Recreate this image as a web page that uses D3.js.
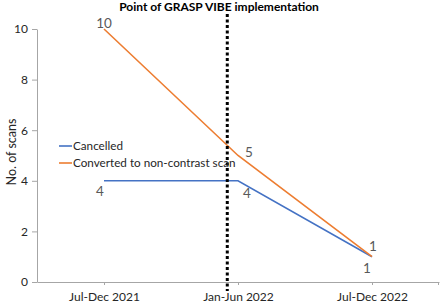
<!DOCTYPE html>
<html>
<head>
<meta charset="utf-8">
<script src="https://cdn.jsdelivr.net/npm/d3@7"></script>
<style>
  body { margin: 0; background: #fff; }
  text { font-family: Lato, "Liberation Sans", sans-serif; }
</style>
</head>
<body>
<div id="main"></div>
<script>
// chart data
var periods = ["Jul-Dec 2021", "Jan-Jun 2022", "Jul-Dec 2022"];
var cancelled = [4, 4, 1];
var converted = [10, 5, 1];
var seriesNames = ["Cancelled", "Converted to non-contrast scan"];
var yTicks = [0, 2, 4, 6, 8, 10];
var markerIndex = 0.92; // GRASP VIBE point, in category units
var titleText = "Point of GRASP VIBE implementation";

var ctx = {
    w: 440,
    h: 303,
    left: 37,
    right: 439,
    top: 29,
    bottom: 282,
    BLUE: "#4472c4",
    ORANGE: "#ed7d31",
    AXIS: "#a6a6a6",
    LABEL: "#595959",
    TEXT: "#262626"
};

var svgEl = d3.select("#main").append("svg")
    .attr("width", ctx.w)
    .attr("height", ctx.h);

var xScale = d3.scalePoint().domain(periods)
    .range([ctx.left, ctx.right]).padding(0.5);
var xIdx = d3.scaleLinear().domain([-0.5, periods.length - 0.5])
    .range([ctx.left, ctx.right]);
var yScale = d3.scaleLinear().domain([0, 10])
    .range([ctx.bottom, ctx.top]);

// y axis
var yAxis = svgEl.append("g")
    .attr("transform", "translate(" + ctx.left + ",0)")
    .call(d3.axisLeft(yScale).tickValues(yTicks).tickSize(5).tickSizeOuter(0));
yAxis.select(".domain").attr("stroke", ctx.AXIS);
yAxis.selectAll(".tick line").attr("stroke", ctx.AXIS);
yAxis.selectAll(".tick text").attr("fill", ctx.TEXT)
    .style("font-size", "12px").attr("x", -9);

// x axis
var xAxis = svgEl.append("g")
    .attr("transform", "translate(0," + ctx.bottom + ")")
    .call(d3.axisBottom(xScale).tickSize(3).tickSizeOuter(0));
xAxis.select(".domain").attr("stroke", ctx.AXIS);
xAxis.selectAll(".tick line").attr("stroke", ctx.AXIS);
xAxis.selectAll(".tick text").attr("fill", ctx.TEXT)
    .style("font-size", "12px").attr("y", 10);
xAxis.append("line")
    .attr("x1", ctx.right - 0.5).attr("x2", ctx.right - 0.5)
    .attr("y1", 0).attr("y2", 3)
    .attr("stroke", ctx.AXIS);

// y axis title
svgEl.append("text")
    .attr("transform", "translate(16,152) rotate(-90)")
    .attr("text-anchor", "middle")
    .attr("fill", ctx.TEXT)
    .style("font-size", "12.5px")
    .text("No. of scans");

// lines
var line = d3.line()
    .x(function(d, i){ return xScale(periods[i]); })
    .y(function(d){ return yScale(d); });

svgEl.append("path").datum(cancelled)
    .attr("d", line).attr("fill", "none")
    .attr("stroke", ctx.BLUE).attr("stroke-width", 1.6);
svgEl.append("path").datum(converted)
    .attr("d", line).attr("fill", "none")
    .attr("stroke", ctx.ORANGE).attr("stroke-width", 1.6);

// data labels: dx/dy offsets per point
var blueOffsets = [[-4, 15], [9, 17], [-5, 16]];
var orangeOffsets = [[0, -1], [11, 1], [1, -6]];
var addLabels = function(values, offsets){
    svgEl.append("g").selectAll("text").data(values).enter().append("text")
        .attr("x", function(d, i){ return xScale(periods[i]) + offsets[i][0]; })
        .attr("y", function(d, i){ return yScale(d) + offsets[i][1]; })
        .attr("text-anchor", "middle")
        .attr("fill", ctx.LABEL)
        .style("font-size", "13.5px")
        .text(function(d){ return d; });
};
addLabels(cancelled, blueOffsets);
addLabels(converted, orangeOffsets);

// marker line
svgEl.append("line")
    .attr("x1", xIdx(markerIndex)).attr("x2", xIdx(markerIndex))
    .attr("y1", 14).attr("y2", 291)
    .attr("stroke", "#000").attr("stroke-width", 3)
    .attr("stroke-dasharray", "3,2.5");

svgEl.append("text")
    .attr("x", 219).attr("y", 11)
    .attr("text-anchor", "middle")
    .attr("fill", "#000")
    .style("font-size", "12px").style("font-weight", "bold")
    .text(titleText);

// legend
var legend = svgEl.append("g");
[ctx.BLUE, ctx.ORANGE].forEach(function(c, i){
    var y = 146 + i * 17;
    legend.append("line")
        .attr("x1", 59).attr("x2", 72)
        .attr("y1", y).attr("y2", y)
        .attr("stroke", c).attr("stroke-width", 1.6);
    legend.append("text")
        .attr("x", 73).attr("y", y + 4)
        .attr("fill", ctx.TEXT)
        .style("font-size", "11.7px")
        .text(seriesNames[i]);
});
</script>
</body>
</html>
